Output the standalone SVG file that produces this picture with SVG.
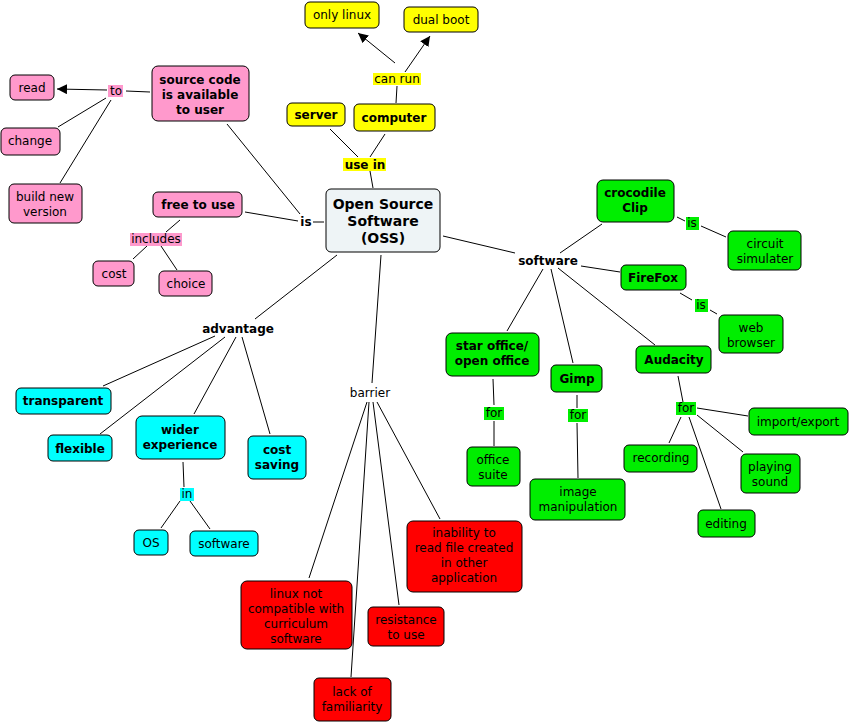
<svg xmlns="http://www.w3.org/2000/svg" width="851" height="723" viewBox="0 0 851 723">
<defs>
<style>
text{font-family:"DejaVu Sans","Liberation Sans",sans-serif;font-size:12px;text-anchor:middle;fill:#000}
.b{font-weight:bold}
rect.n{stroke:#000;stroke-width:1}
.y{fill:#ffff00}.p{fill:#ff99cc}.g{fill:#00ee00}.c{fill:#00ffff}.r{fill:#ff0000}
#conn line{stroke:#000;stroke-width:1}
</style>
<marker id="ar" viewBox="0 0 10 10" refX="10" refY="5" markerWidth="10" markerHeight="10" orient="auto" markerUnits="userSpaceOnUse"><path d="M0,0L10,5L0,10z" fill="#000"/></marker>
</defs>
<rect width="851" height="723" fill="#fff"/>
<g id="conn">
<line x1="395" y1="63" x2="358" y2="33" marker-end="url(#ar)"/>
<line x1="405" y1="72" x2="430" y2="36" marker-end="url(#ar)"/>
<line x1="397" y1="86" x2="396" y2="103"/>
<line x1="330" y1="129" x2="358" y2="157"/>
<line x1="385" y1="134" x2="370" y2="157"/>
<line x1="370" y1="171" x2="373" y2="188"/>
<line x1="150" y1="92" x2="126" y2="91"/>
<line x1="107" y1="90" x2="57" y2="89" marker-end="url(#ar)"/>
<line x1="106" y1="98" x2="58" y2="127"/>
<line x1="111" y1="100" x2="60" y2="183"/>
<line x1="227" y1="124" x2="300" y2="214"/>
<line x1="245" y1="212" x2="298" y2="221"/>
<line x1="313" y1="222" x2="324" y2="222"/>
<line x1="180" y1="220" x2="166" y2="232"/>
<line x1="147" y1="246" x2="133" y2="259"/>
<line x1="161" y1="246" x2="177" y2="270"/>
<line x1="443" y1="236" x2="515" y2="253"/>
<line x1="560" y1="253" x2="602" y2="224"/>
<line x1="581" y1="266" x2="620" y2="272"/>
<line x1="677" y1="217" x2="685" y2="221"/>
<line x1="701" y1="226" x2="726" y2="237"/>
<line x1="680" y1="293" x2="692" y2="300"/>
<line x1="710" y1="310" x2="717" y2="314"/>
<line x1="543" y1="269" x2="507" y2="331"/>
<line x1="551" y1="269" x2="573" y2="363"/>
<line x1="558" y1="268" x2="655" y2="345"/>
<line x1="493" y1="379" x2="494" y2="405"/>
<line x1="494" y1="421" x2="494" y2="446"/>
<line x1="577" y1="395" x2="577" y2="408"/>
<line x1="577" y1="423" x2="578" y2="478"/>
<line x1="678" y1="376" x2="683" y2="402"/>
<line x1="697" y1="408" x2="748" y2="416"/>
<line x1="681" y1="417" x2="669" y2="443"/>
<line x1="689" y1="417" x2="721" y2="509"/>
<line x1="697" y1="415" x2="743" y2="452"/>
<line x1="337" y1="255" x2="255" y2="319"/>
<line x1="215" y1="336" x2="103" y2="386"/>
<line x1="225" y1="337" x2="100" y2="434"/>
<line x1="236" y1="337" x2="194" y2="414"/>
<line x1="242" y1="337" x2="270" y2="434"/>
<line x1="183" y1="462" x2="184" y2="487"/>
<line x1="180" y1="501" x2="161" y2="528"/>
<line x1="190" y1="501" x2="210" y2="529"/>
<line x1="381" y1="255" x2="372" y2="383"/>
<line x1="367" y1="402" x2="309" y2="578"/>
<line x1="369" y1="402" x2="351" y2="677"/>
<line x1="373" y1="402" x2="399" y2="605"/>
<line x1="377" y1="402" x2="440" y2="519"/>
</g>
<g id="oss"><rect class="n" x="326" y="189" width="114" height="63" rx="5" fill="#eef4f6"/><text class="b" x="383" y="209" style="font-size:14px">Open Source</text><text class="b" x="383" y="226" style="font-size:14px">Software</text><text class="b" x="383" y="243" style="font-size:14px">(OSS)</text></g>
<g id="onlylinux"><rect class="n y" x="305" y="2" width="74" height="26" rx="5"/><text x="342" y="19">only linux</text></g>
<g id="dualboot"><rect class="n y" x="404" y="7" width="74" height="25" rx="5"/><text x="441" y="24">dual boot</text></g>
<g id="canrun"><rect class="y" x="373" y="73" width="48" height="12"/><text x="397" y="83">can run</text></g>
<g id="server"><rect class="n y" x="287" y="103" width="58" height="23" rx="5"/><text class="b" x="316" y="119">server</text></g>
<g id="computer"><rect class="n y" x="354" y="104" width="81" height="27" rx="5"/><text class="b" x="394" y="122">computer</text></g>
<g id="usein"><rect class="y" x="343" y="158" width="43" height="13"/><text class="b" x="365" y="169">use in</text></g>
<g id="source"><rect class="n p" x="152" y="66" width="97" height="55" rx="6"/><text class="b" x="200" y="84">source code</text><text class="b" x="200" y="99">is available</text><text class="b" x="200" y="114">to user</text></g>
<g id="read"><rect class="n p" x="10" y="75" width="44" height="25" rx="5"/><text x="32" y="92">read</text></g>
<g id="to"><rect class="p" x="108" y="85" width="15" height="12"/><text x="116" y="95">to</text></g>
<g id="change"><rect class="n p" x="1" y="128" width="59" height="27" rx="5"/><text x="30" y="145">change</text></g>
<g id="build"><rect class="n p" x="9" y="184" width="73" height="39" rx="5"/><text x="45" y="201">build new</text><text x="45" y="216">version</text></g>
<g id="free"><rect class="n p" x="153" y="192" width="89" height="25" rx="5"/><text class="b" x="198" y="209">free to use</text></g>
<g id="includes"><rect class="p" x="130" y="233" width="52" height="13"/><text x="156" y="243">includes</text></g>
<g id="cost"><rect class="n p" x="93" y="261" width="41" height="25" rx="5"/><text x="114" y="278">cost</text></g>
<g id="choice"><rect class="n p" x="159" y="271" width="53" height="25" rx="5"/><text x="186" y="288">choice</text></g>
<g id="is"><text class="b" x="306" y="226">is</text></g>
<g id="software"><text class="b" x="548" y="265">software</text></g>
<g id="croc"><rect class="n g" x="597" y="180" width="77" height="42" rx="6"/><text class="b" x="635" y="197">crocodile</text><text class="b" x="635" y="212">Clip</text></g>
<g id="is2"><rect class="g" x="686" y="217" width="13" height="13"/><text x="692" y="227">is</text></g>
<g id="circuit"><rect class="n g" x="728" y="231" width="73" height="39" rx="5"/><text x="765" y="248">circuit</text><text x="765" y="263">simulater</text></g>
<g id="firefox"><rect class="n g" x="621" y="265" width="65" height="25" rx="5"/><text class="b" x="653" y="282">FireFox</text></g>
<g id="is3"><rect class="g" x="695" y="299" width="13" height="13"/><text x="701" y="309">is</text></g>
<g id="web"><rect class="n g" x="719" y="315" width="64" height="38" rx="5"/><text x="751" y="332">web</text><text x="751" y="347">browser</text></g>
<g id="star"><rect class="n g" x="446" y="333" width="93" height="43" rx="6"/><text class="b" x="492" y="350">star office/</text><text class="b" x="492" y="365">open office</text></g>
<g id="gimp"><rect class="n g" x="551" y="365" width="51" height="27" rx="5"/><text class="b" x="577" y="383">Gimp</text></g>
<g id="audacity"><rect class="n g" x="636" y="346" width="75" height="27" rx="5"/><text class="b" x="674" y="364">Audacity</text></g>
<g id="for1"><rect class="g" x="484" y="407" width="20" height="13"/><text x="494" y="417">for</text></g>
<g id="for2"><rect class="g" x="568" y="409" width="20" height="13"/><text x="578" y="419">for</text></g>
<g id="for3"><rect class="g" x="676" y="402" width="20" height="13"/><text x="686" y="412">for</text></g>
<g id="office"><rect class="n g" x="467" y="447" width="53" height="39" rx="5"/><text x="493" y="464">office</text><text x="493" y="479">suite</text></g>
<g id="image"><rect class="n g" x="530" y="479" width="95" height="41" rx="5"/><text x="578" y="496">image</text><text x="578" y="511">manipulation</text></g>
<g id="recording"><rect class="n g" x="624" y="445" width="73" height="27" rx="5"/><text x="661" y="462">recording</text></g>
<g id="import"><rect class="n g" x="749" y="408" width="99" height="27" rx="5"/><text x="798" y="426">import/export</text></g>
<g id="playing"><rect class="n g" x="741" y="454" width="59" height="39" rx="5"/><text x="770" y="471">playing</text><text x="770" y="486">sound</text></g>
<g id="editing"><rect class="n g" x="698" y="510" width="57" height="27" rx="5"/><text x="726" y="528">editing</text></g>
<g id="advantage"><text class="b" x="238" y="333">advantage</text></g>
<g id="transparent"><rect class="n c" x="16" y="388" width="95" height="26" rx="5"/><text class="b" x="63" y="405">transparent</text></g>
<g id="flexible"><rect class="n c" x="48" y="435" width="64" height="26" rx="5"/><text class="b" x="80" y="453">flexible</text></g>
<g id="wider"><rect class="n c" x="136" y="416" width="89" height="43" rx="6"/><text class="b" x="180" y="434">wider</text><text class="b" x="180" y="449">experience</text></g>
<g id="costsaving"><rect class="n c" x="248" y="436" width="58" height="43" rx="5"/><text class="b" x="277" y="454">cost</text><text class="b" x="277" y="469">saving</text></g>
<g id="in"><rect class="c" x="180" y="488" width="14" height="13"/><text x="187" y="498">in</text></g>
<g id="os"><rect class="n c" x="134" y="530" width="34" height="25" rx="5"/><text x="151" y="547">OS</text></g>
<g id="software2"><rect class="n c" x="190" y="531" width="68" height="25" rx="5"/><text x="224" y="548">software</text></g>
<g id="barrier"><text x="370" y="397">barrier</text></g>
<g id="inability"><rect class="n r" x="407" y="521" width="115" height="71" rx="6"/><text x="464" y="537">inability to</text><text x="464" y="552">read file created</text><text x="464" y="567">in other</text><text x="464" y="582">application</text></g>
<g id="linuxnot"><rect class="n r" x="241" y="581" width="111" height="68" rx="6"/><text x="296" y="598">linux not</text><text x="296" y="613">compatible with</text><text x="296" y="628">curriculum</text><text x="296" y="643">software</text></g>
<g id="resistance"><rect class="n r" x="368" y="607" width="76" height="39" rx="5"/><text x="406" y="624">resistance</text><text x="406" y="639">to use</text></g>
<g id="lack"><rect class="n r" x="314" y="678" width="77" height="43" rx="5"/><text x="352" y="696">lack of</text><text x="352" y="711">familiarity</text></g>
</svg>
